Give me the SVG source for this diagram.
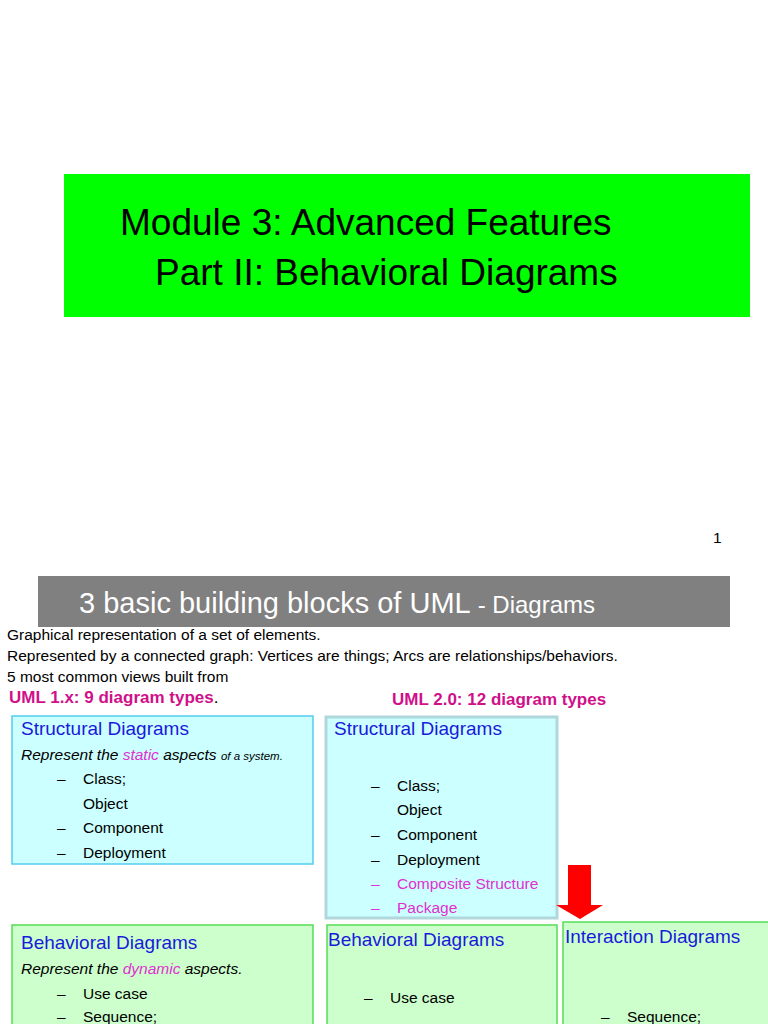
<svg xmlns="http://www.w3.org/2000/svg" width="768" height="1024" viewBox="0 0 768 1024">
<style>
text{font-family:"Liberation Sans",Arial,sans-serif}
.h{fill:#1a1adc;font-size:19px}
.t{fill:#000;font-size:15.5px}
.m{fill:#e030d0;font-size:15.5px}
.pk{fill:#d0108a;font-size:17px;font-weight:bold}
.s{fill:#ccffff;stroke:#55ccee;stroke-width:1.5}
.g{fill:#ccffcc;stroke:#55dd55;stroke-width:1.5}
</style>
<rect width="768" height="1024" fill="#fff"/>
<g id="title"><rect x="64" y="174" width="686" height="143" fill="#00ff00"/>
<text x="120" y="235" font-size="37" fill="#000">Module 3: Advanced Features</text>
<text x="155" y="285" font-size="37" fill="#000">Part II: Behavioral Diagrams</text></g>
<text x="713" y="543" class="t" font-size="14">1</text>
<g id="bar"><rect x="38" y="576" width="692" height="51" fill="#808080"/>
<text x="79" y="613" fill="#fff" font-size="29">3 basic building blocks of UML <tspan font-size="24">- Diagrams</tspan></text></g>
<text x="7" y="640" class="t" font-size="14.5">Graphical representation of a set of elements.</text>
<text x="7" y="661" class="t" font-size="14.5">Represented by a connected graph: Vertices are things; Arcs are relationships/behaviors.</text>
<text x="7" y="682" class="t" font-size="14.5">5 most common views built from</text>
<text x="9" y="703" class="pk">UML 1.x: 9 diagram types<tspan fill="#000" font-weight="normal">.</tspan></text>
<text x="392" y="705" class="pk">UML 2.0: 12 diagram types</text>
<g id="s1"><rect class="s" x="12" y="716" width="301" height="148"/>
<text x="21" y="735" class="h">Structural Diagrams</text>
<text x="21" y="760" class="t" font-style="italic" font-size="14.5">Represent the <tspan fill="#e030d0">static</tspan> aspects <tspan font-size="11.5">of a system.</tspan></text>
<text x="57" y="784" class="t">–</text><text x="83" y="784" class="t">Class;</text>
<text x="83" y="809" class="t">Object</text>
<text x="57" y="833" class="t">–</text><text x="83" y="833" class="t">Component</text>
<text x="57" y="858" class="t">–</text><text x="83" y="858" class="t">Deployment</text></g>
<g id="s2"><rect x="326" y="717" width="231" height="201" fill="#ccffff" stroke="#b0d8dc" stroke-width="3"/>
<text x="334" y="735" class="h">Structural Diagrams</text>
<text x="371" y="791" class="t">–</text><text x="397" y="791" class="t">Class;</text>
<text x="397" y="815" class="t">Object</text>
<text x="371" y="840" class="t">–</text><text x="397" y="840" class="t">Component</text>
<text x="371" y="865" class="t">–</text><text x="397" y="865" class="t">Deployment</text>
<text x="371" y="889" class="m">–</text><text x="397" y="889" class="m">Composite Structure</text>
<text x="371" y="913" class="m">–</text><text x="397" y="913" class="m">Package</text></g>
<g id="b1"><rect class="g" x="12" y="925" width="301" height="110"/>
<text x="21" y="949" class="h">Behavioral Diagrams</text>
<text x="21" y="974" class="t" font-style="italic" font-size="14.5">Represent the <tspan fill="#e030d0">dynamic</tspan> aspects.</text>
<text x="57" y="999" class="t">–</text><text x="83" y="999" class="t">Use case</text>
<text x="57" y="1022" class="t">–</text><text x="83" y="1022" class="t">Sequence;</text></g>
<g id="b2"><rect class="g" x="327" y="925" width="230" height="110"/>
<text x="328" y="946" class="h">Behavioral Diagrams</text>
<text x="364" y="1003" class="t">–</text><text x="390" y="1003" class="t">Use case</text></g>
<g id="i1"><rect class="g" x="563" y="922" width="210" height="110"/>
<text x="565" y="943" class="h">Interaction Diagrams</text>
<text x="601" y="1022" class="t">–</text><text x="627" y="1022" class="t">Sequence;</text></g>
<g id="connectors"><polygon points="568,865 591,865 591,905 603,905 580,919 556,905 568,905" fill="#ff0000"/></g>
</svg>
